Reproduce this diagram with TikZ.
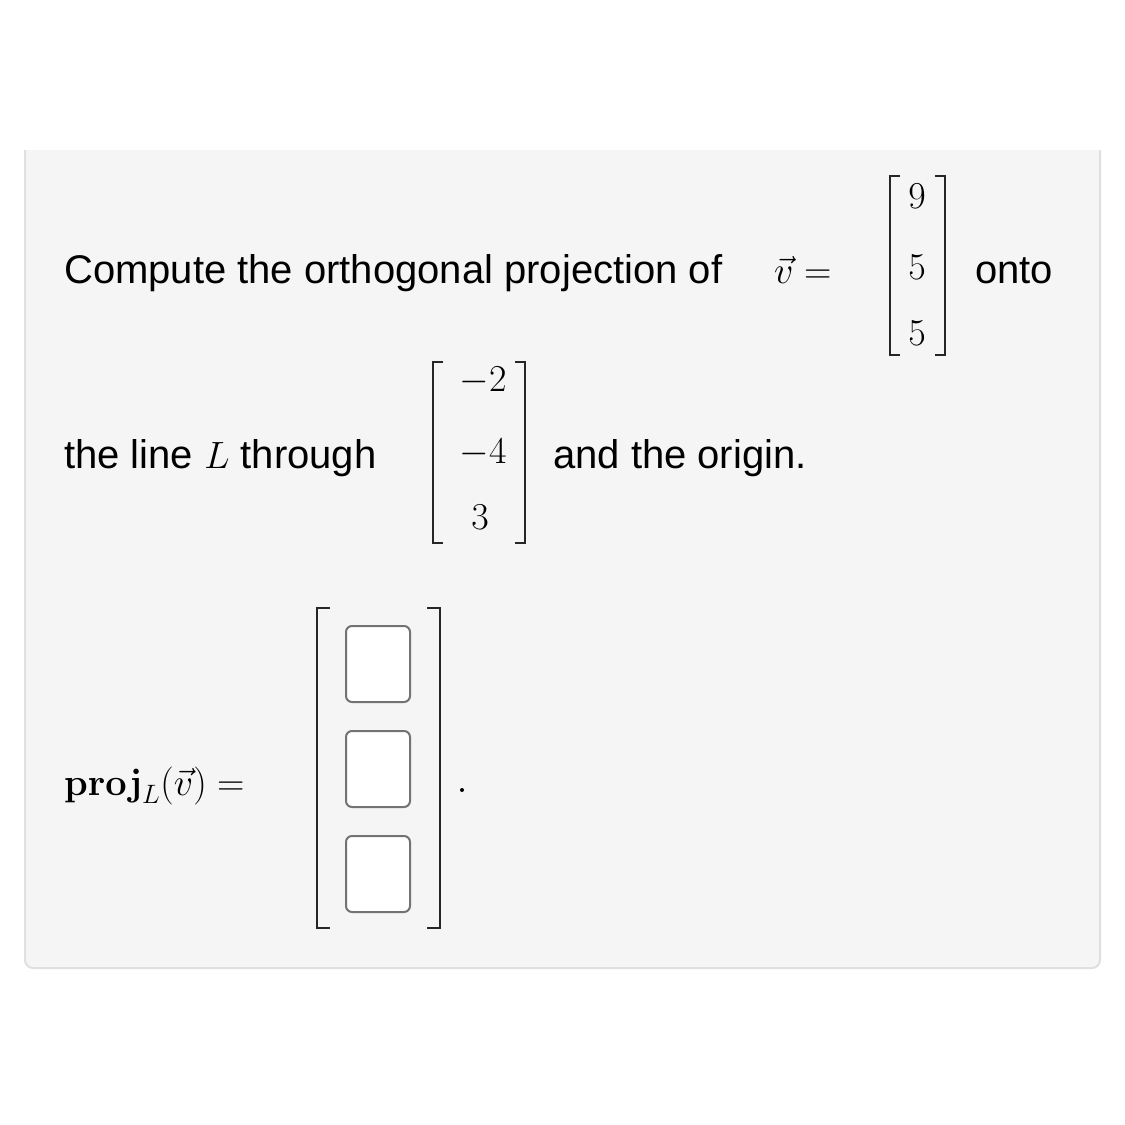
\RequirePackage{fix-cm}
\documentclass[tikz,border=0pt]{standalone}
\usepackage{amsmath}
\usepackage[no-math]{fontspec}
\setmainfont{Liberation Sans}
\begin{document}
\begin{tikzpicture}[x=1pt,y=-1pt,
 txt/.style={anchor=base west,inner sep=0pt,font=\fontsize{40}{44}\selectfont},
 ent/.style={inner sep=0pt,font=\fontsize{38}{42}\selectfont},
 br/.style={line width=2.6pt,color=black!85},
 ansbox/.style={draw=black!55,line width=2pt,rounded corners=6pt,fill=white}]
\useasboundingbox (0,0) rectangle (1125,1125);
\fill[white] (0,0) rectangle (1125,1125);
\draw[black!12,line width=2pt,fill=black!4,rounded corners=8pt] (25,150) -- (25,968) -- (1100,968) -- (1100,150);
\node[txt] (t1) at (64,283) {Compute the orthogonal projection of};
\node[txt,font=\fontsize{38}{42}\selectfont] (v1) at (774,283) {$\vec{v} =$};
\node[txt] (t2) at (975,283) {onto};
% matrix 1
\draw[br] (900,176) -- (890,176) -- (890,355) -- (900,355);
\draw[br] (935,176) -- (945,176) -- (945,355) -- (935,355);
\node[ent] (a1) at (917,196) {$9$};
\node[ent] (a2) at (917,267) {$5$};
\node[ent] (a3) at (917,333) {$5$};
\node[txt] (t3) at (64,468) {the line {\fontsize{38}{42}\selectfont$L$} through};
% matrix 2
\draw[br] (443,362) -- (433,362) -- (433,543) -- (443,543);
\draw[br] (515,362) -- (525,362) -- (525,543) -- (515,543);
\node[ent] (b1) at (483,381) {$-2$};
\node[ent] (b2) at (483,453) {$-4$};
\node[ent] (b3) at (480,517) {$3$};
\node[txt] (t4) at (553,468) {and the origin.};
% answer
\node[txt,font=\fontsize{38}{42}\selectfont] (t5) at (64,795) {$\mathbf{proj}_L(\vec{v}) =$};
\draw[br] (330,608) -- (317,608) -- (317,928) -- (330,928);
\draw[br] (427,608) -- (440,608) -- (440,928) -- (427,928);
\node[ansbox,minimum width=64pt,minimum height=76pt] (c1) at (378,664) {};
\node[ansbox,minimum width=64pt,minimum height=76pt] (c2) at (378,769) {};
\node[ansbox,minimum width=64pt,minimum height=76pt] (c3) at (378,874) {};
\fill (462,790) circle (2pt);
\end{tikzpicture}
\end{document}
